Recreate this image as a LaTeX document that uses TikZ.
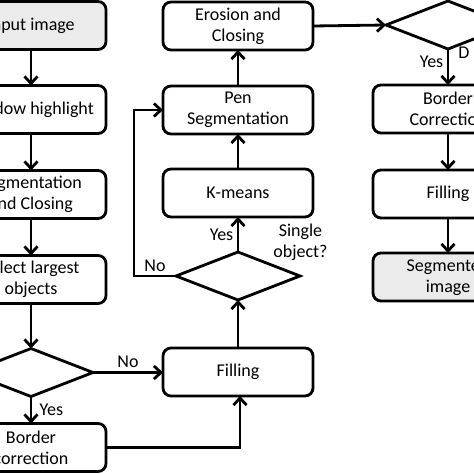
\documentclass[tikz,border=0pt]{standalone}
\usepackage{fontspec}
\setmainfont{Carlito}
\usetikzlibrary{arrows.meta,positioning,shapes.geometric}
\definecolor{startgray}{RGB}{235,235,235}
\tikzset{
  stepbox/.style={rectangle,draw,rounded corners=8pt,line width=2.8pt,
    minimum width=150pt,minimum height=48pt,inner sep=2pt,outer sep=0pt,align=center},
  iobox/.style={stepbox,fill=startgray},
  decision/.style={diamond,draw,line width=2.8pt,minimum width=124pt,
    minimum height=48pt,inner sep=0pt,outer sep=0pt}
}

\begin{document}
\begin{tikzpicture}[x=1pt,y=1pt,node distance=36pt,line width=2.8pt,
    >={Straight Barb[length=7pt,width=13pt]},
    font=\fontsize{18}{21}\selectfont]
        \path[use as bounding box,clip] (0,0) rectangle (474,474);

        % left column
        \node[iobox] (input) at (31,448.5) {Input image};
        \node[stepbox,below=of input] (shadow) {Shadow highlight};
        \node[stepbox,below=37pt of shadow] (segclose) {Segmentation\\and Closing};
        \node[stepbox,below=37pt of segclose] (largest) {Select largest\\objects};
        \node[decision,below=45pt of largest] (bordertest) {};
        \node[stepbox,below=27pt of bordertest] (borderleft) {Border\\correction};

        % middle column
        \node[stepbox] (erosion) at (238,448) {Erosion and\\Closing};
        \node[stepbox,below=of erosion] (pen) {Pen\\Segmentation};
        \node[stepbox,below=35pt of pen] (kmeans) {K-means};
        \node[decision,below=35pt of kmeans] (single) {};
        \node[stepbox,below=48pt of single] (fillmid) {Filling};

        % right column
        \node[decision] (donetest) at (448,449) {};
        \node[stepbox,below=of donetest] (borderright) {Border\\Correction};
        \node[stepbox,below=37pt of borderright] (fillright) {Filling};
        \node[iobox,below=35pt of fillright] (result) {Segmented\\image};

        \node[above right,inner sep=1pt,align=center,xshift=2pt,yshift=1pt]
          at (single.north east) {Single\\object?};
        \node[right,inner sep=1pt,xshift=8pt,yshift=-4pt] at (donetest.south) {D};

        \draw[->] (input) -- (shadow);
        \draw[->] (shadow) -- (segclose);
        \draw[->] (segclose) -- (largest);
        \draw[->] (largest) -- (bordertest);
        \draw[->] (bordertest) -- node[right,xshift=4pt] {Yes} (borderleft);
        \draw[->] (bordertest.east) -- node[above] {No} (bordertest.east -| fillmid.west);
        \draw[->] (borderleft.east) -| ([xshift=2pt]fillmid.south);
        \draw[->] (fillmid) -- (single);
        \draw[->] (single) -- node[left] {Yes} (kmeans);
        \draw[->] (single.west) -- node[above] {No} ++(-42,0) |- (pen.west);
        \draw[->] (kmeans) -- (pen);
        \draw[->] (pen) -- (erosion);
        \draw[->] (erosion.east) -- (donetest.west);
        \draw[->] (donetest) -- node[left,pos=0.35] {Yes} (borderright);
        \draw[->] (borderright) -- (fillright);
        \draw[->] (fillright) -- (result);
      \end{tikzpicture}
\end{document}
